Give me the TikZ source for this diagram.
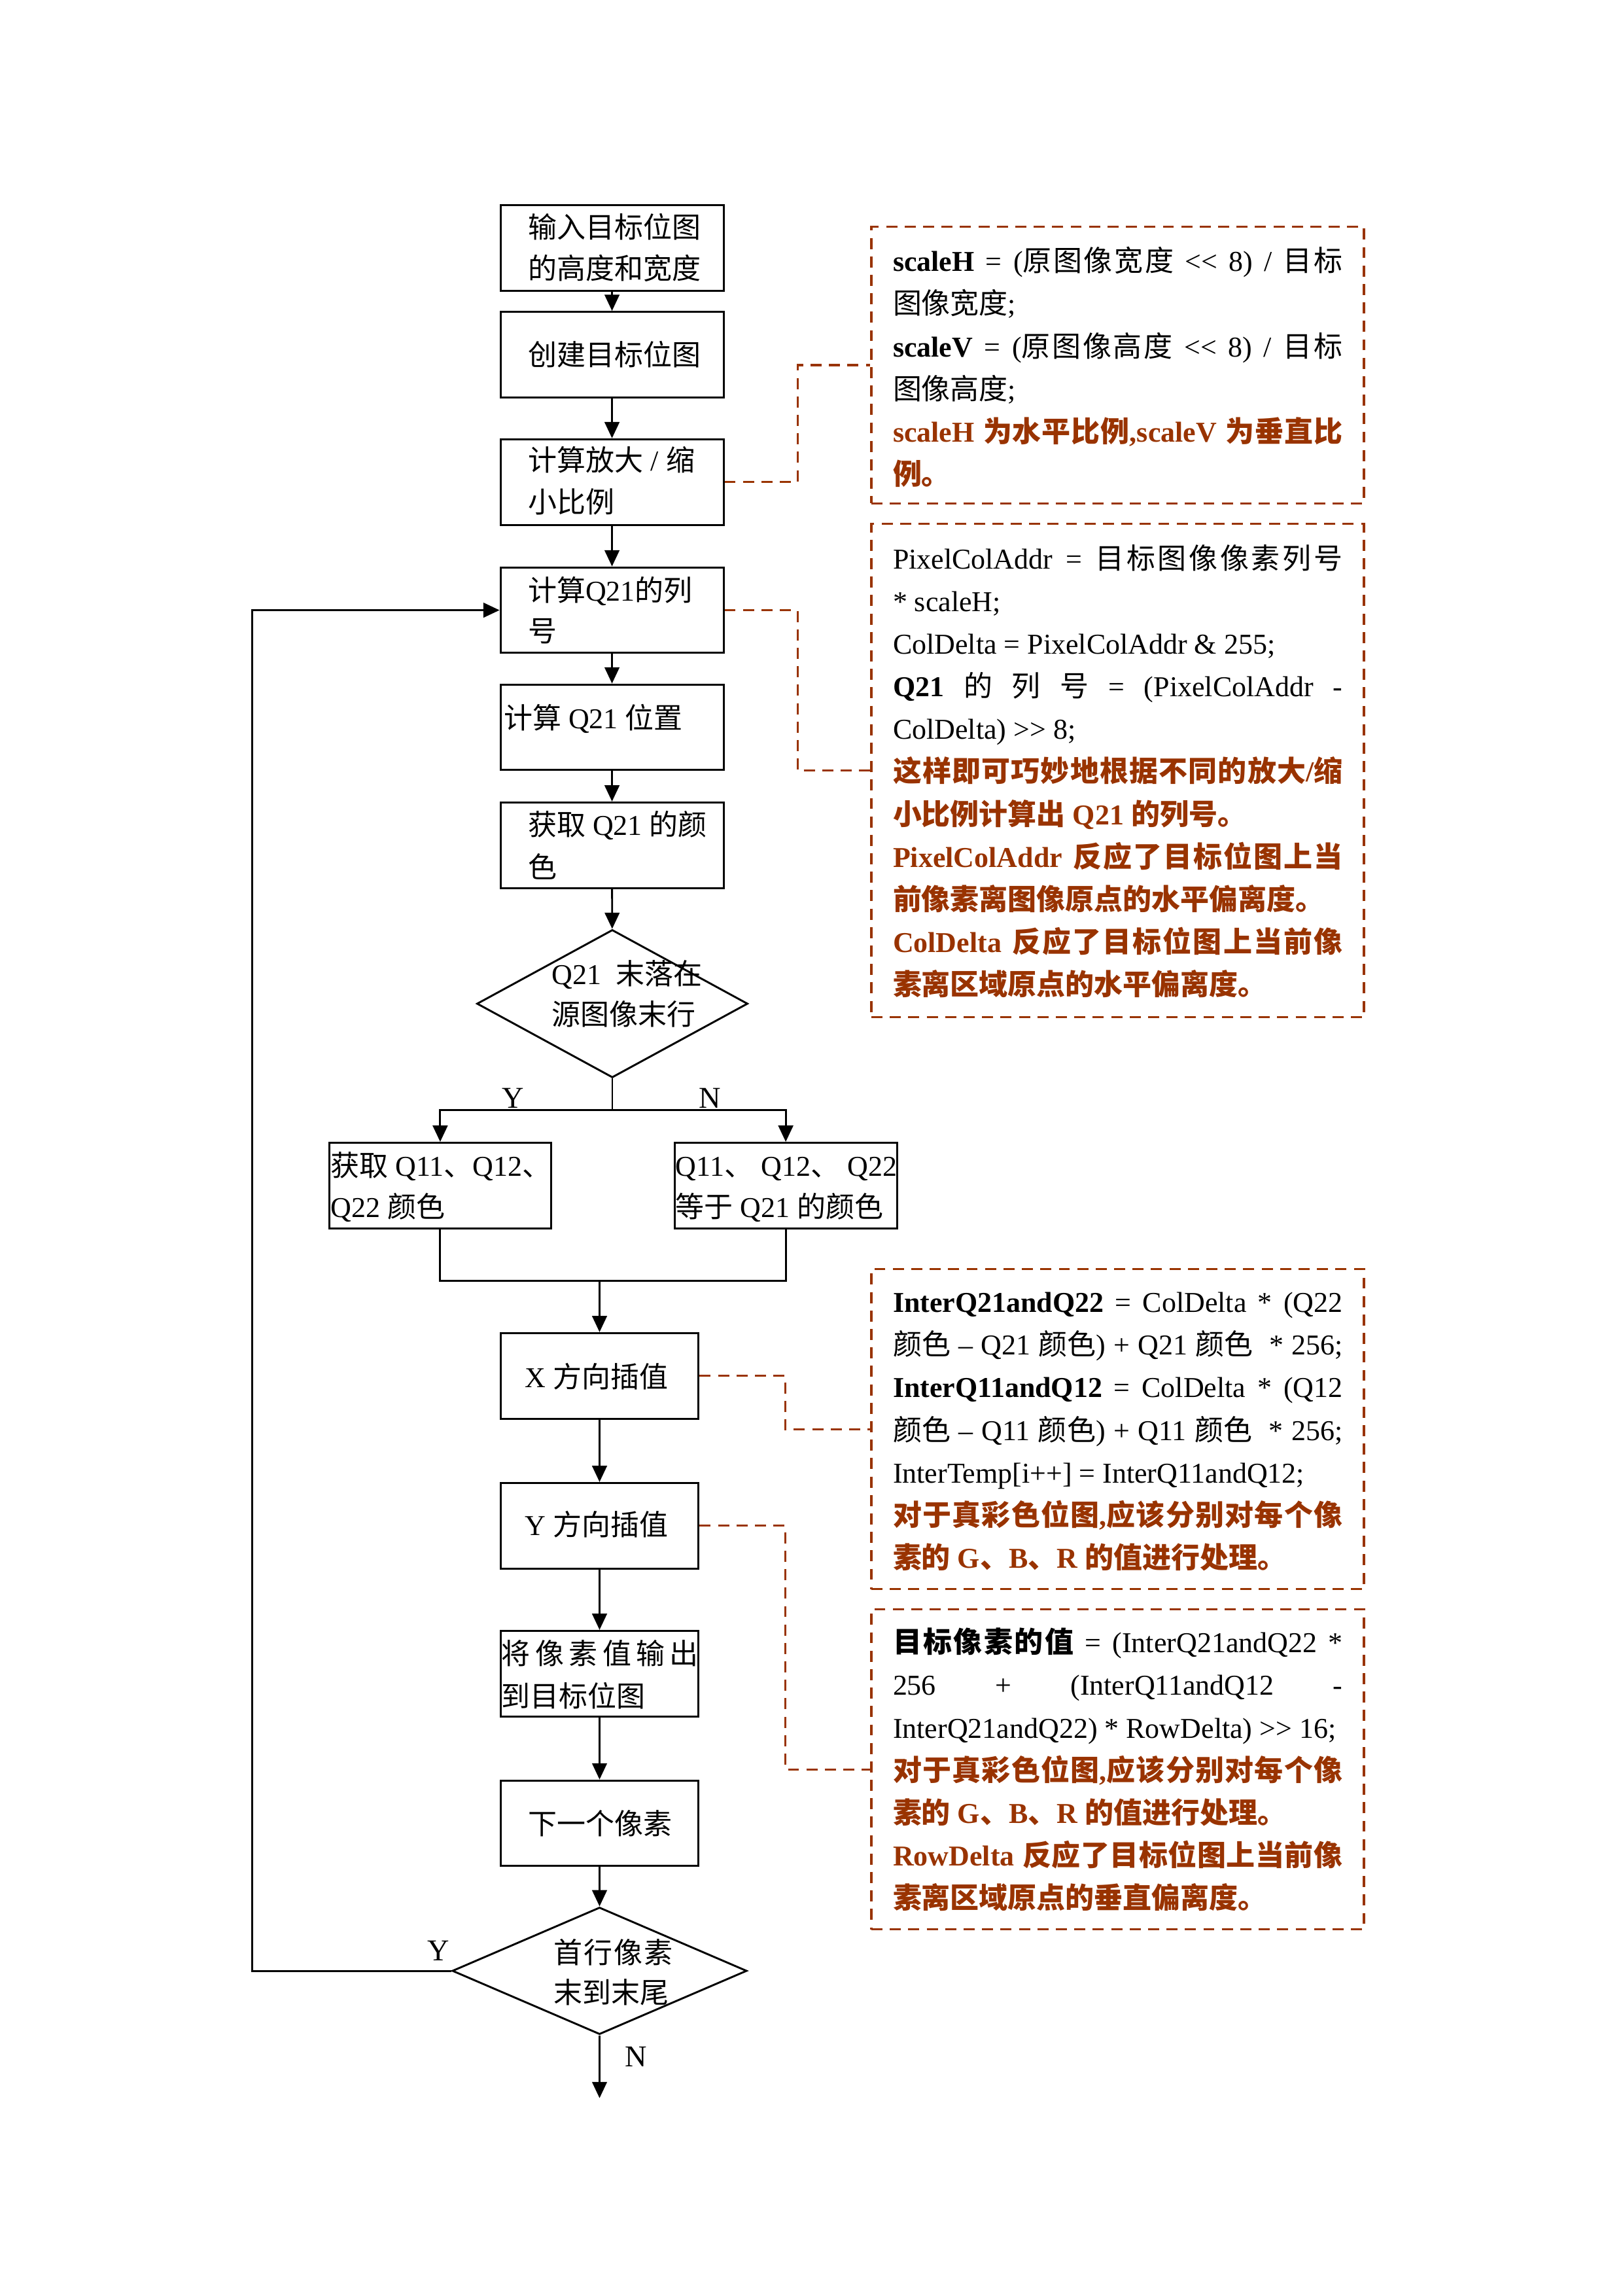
\documentclass[tikz,border=0pt]{standalone}
\usepackage{fontspec}
\setmainfont{Liberation Serif}
\newfontfamily\zhfont{Noto Sans CJK SC}
\usetikzlibrary{arrows.meta,shapes.geometric}
\definecolor{brn}{RGB}{153,51,0}
% automatic switch to the CJK font for Chinese characters
\XeTeXinterchartokenstate=1
\newXeTeXintercharclass\zhcls
\newcount\zhcnt
\zhcnt="3000 \loop \XeTeXcharclass\zhcnt=\zhcls \advance\zhcnt by 1 \ifnum\zhcnt<"3040 \repeat
\zhcnt="4E00 \loop \XeTeXcharclass\zhcnt=\zhcls \advance\zhcnt by 1 \ifnum\zhcnt<"A000 \repeat
\zhcnt="FF00 \loop \XeTeXcharclass\zhcnt=\zhcls \advance\zhcnt by 1 \ifnum\zhcnt<"FFF0 \repeat
\XeTeXinterchartoks 0 \zhcls = {\zhfont}
\XeTeXinterchartoks 4095 \zhcls = {\zhfont}
\XeTeXinterchartoks \zhcls 0 = {\rmfamily}
\XeTeXinterchartoks \zhcls 4095 = {\rmfamily}
\XeTeXinterchartoks \zhcls \zhcls = {\hskip 0pt plus 1pt\relax}
\newdimen\dbtw \dbtw=304.8pt
\newcommand\lineJ[1]{\hbox to \dbtw{#1}}
\newcommand\lineN[1]{\hbox{#1}}
\newcommand\bb[1]{{\color{brn}\bfseries #1}}
\newcommand\shl{<\kern0pt<}
\newcommand\shr{>\kern0pt>}
\newcommand\dbsk{\baselineskip=28.9pt\lineskip=0pt\lineskiplimit=-100pt\relax}
\newcommand\twol[3]{\vtop{\baselineskip=#1pt\lineskip=0pt\lineskiplimit=-100pt\relax\hbox{#2}\hbox{#3}}}
\begin{document}
\begin{tikzpicture}[x=1pt,y=-1pt,font=\fontsize{19.5pt}{28.9pt}\selectfont,
  box/.style={draw, line width=1.3pt, inner sep=0pt, minimum height=58pt},
  ubox/.style={box, minimum width=151.2pt},
  lbox/.style={box, minimum width=134.3pt},
  dec/.style={draw, diamond, line width=1.3pt, inner sep=0pt},
  arr/.style={line width=1.3pt, -{Triangle[length=11pt,width=10pt]}},
  ln/.style={line width=1.3pt},
  dbox/.style={draw=brn, line width=1.4pt, dash pattern=on 7.5pt off 5pt, inner sep=0pt, minimum width=333.8pt},
  dcon/.style={draw=brn, line width=1.4pt, dash pattern=on 7.5pt off 5pt},
  txt/.style={inner sep=0pt, anchor=base west},
  lab/.style={inner sep=0pt, anchor=base, font=\fontsize{20.5pt}{24pt}\selectfont}]
\path[fill=white, use as bounding box] (0,0) rectangle (1100,1555.8);

% ---------- flow chart boxes ----------
\node[ubox] (b1) at (414.8,167.95) {};
\node[ubox] (b2) at (414.8,240.3) {};
\node[ubox] (b3) at (414.8,326.6) {};
\node[ubox] (b4) at (414.8,413.45) {};
\node[ubox] (b5) at (414.8,492.8) {};
\node[ubox] (b6) at (414.8,572.75) {};
\node[dec, minimum width=183.6pt, minimum height=100.2pt] (d1) at (415,680.1) {};
\node[box, minimum width=150.1pt] (b7) at (298.35,803.35) {};
\node[box, minimum width=150.7pt] (b8) at (532.55,803.35) {};
\node[lbox] (b9) at (406.35,932.3) {};
\node[lbox] (b10) at (406.35,1033.85) {};
\node[lbox] (b11) at (406.35,1134.05) {};
\node[lbox] (b12) at (406.35,1235.45) {};
\node[dec, minimum width=199.7pt, minimum height=86.1pt] (d2) at (406.35,1335.45) {};

% ---------- texts of the boxes ----------
\node[txt] (t1) at (357.7,161.3) {\twol{28}{输入目标位图}{的高度和宽度}};
\node[txt] (t2) at (357.7,247.5) {创建目标位图};
\node[txt] (t3) at (357.7,319.1) {\twol{28.1}{\hbox to 113.1pt{计算放大 / 缩}}{小比例}};
\node[txt] (t4) at (357.7,407.4) {\twol{27.3}{计算Q21的列}{号}};
\node[txt] (t5) at (341.3,493.9) {计算 Q21 位置};
\node[txt] (t6) at (357.7,565.9) {\twol{28.9}{获取 Q21 的颜}{色}};
\node[txt] (td1) at (374,666.9) {\twol{27.6}{Q21 \ 末落在}{源图像末行}};
\node[txt] (t7) at (223.9,796.8) {\twol{28.1}{获取 Q11、Q12、}{Q22 颜色}};
\node[txt] (t8) at (457.8,796.8) {\twol{28.1}{\hbox to 150pt{Q11、 Q12、 Q22}}{等于 Q21 的颜色}};
\node[txt] (t9) at (355.6,940.2) {X 方向插值};
\node[txt] (t10) at (355.6,1040.4) {Y 方向插值};
\node[txt] (t11) at (339.8,1127.8) {\twol{28.6}{\hbox to 133.5pt{将像素值输出}}{到目标位图}};
\node[txt] (t12) at (357.7,1243.1) {下一个像素};
\node[txt] (td2) at (375.1,1330.3) {\twol{27}{\hbox to 80.7pt{首行像素}}{末到末尾}};

% ---------- Y / N labels ----------
\node[lab] (ly1) at (347.5,751) {Y};
\node[lab] (ln1) at (481,751) {N};
\node[lab] (ly2) at (297.2,1328.6) {Y};
\node[lab] (ln2) at (430.9,1400.2) {N};

% ---------- connectors ----------
\coordinate (br) at (415,752.3);
\coordinate (mg) at (406.35,868);
\coordinate (endp) at (406.35,1421.7);
\draw[arr] (b1) -- (b2);
\draw[arr] (b2) -- (b3);
\draw[arr] (b3) -- (b4);
\draw[arr] (b4) -- (b5);
\draw[arr] (b5) -- (b6);
\draw[arr] (b6) -- (d1);
\draw[ln] (d1.south) -- (br);
\draw[arr] (br) -| (b7.north);
\draw[arr] (br) -| (b8.north);
\draw[ln] (b7.south) |- (mg) -| (b8.south);
\draw[arr] (mg) -- (b9.north);
\draw[arr] (b9) -- (b10);
\draw[arr] (b10) -- (b11);
\draw[arr] (b11) -- (b12);
\draw[arr] (b12) -- (d2);
\draw[arr] (d2.south) -- (endp);
\draw[arr] (d2.west) -| ([xshift=-167.8pt]b4.west) -- (b4.west);

% ---------- dashed note boxes ----------
\node[dbox, minimum height=187.4pt] (db1) at (757.5,247.4) {};
\node[dbox, minimum height=334.3pt] (db2) at (757.5,522.25) {};
\node[dbox, minimum height=216.9pt] (db3) at (757.5,968.45) {};
\node[dbox, minimum height=216.9pt] (db4) at (757.5,1198.95) {};
\draw[dcon] (b3.east) -- ++(49.5,0) |- (db1.west);
\draw[dcon] (b4.east) -- ++(49.5,0) |- (db2.west);
\draw[dcon] (b9.east) -- ++(58.1,0) |- (db3.west);
\draw[dcon] (b10.east) -- ++(58.1,0) |- (db4.west);

\node[txt] (x1) at (605,183.9) {\vtop{\dbsk
 \lineJ{\textbf{scaleH} = (原图像宽度 \shl{} 8) / 目标}
 \lineN{图像宽度;}
 \lineJ{\textbf{scaleV} = (原图像高度 \shl{} 8) / 目标}
 \lineN{图像高度;}
 \lineJ{\bb{scaleH 为水平比例,scaleV 为垂直比}}
 \lineN{\bb{例。}}}};

\node[txt] (x2) at (605,385.3) {\vtop{\dbsk
 \lineJ{PixelColAddr = 目标图像像素列号}
 \lineN{* scaleH;}
 \lineN{ColDelta = PixelColAddr \& 255;}
 \lineJ{\textbf{Q21} 的 列 号 = (PixelColAddr -}
 \lineN{ColDelta) \shr{} 8;}
 \lineJ{\bb{这样即可巧妙地根据不同的放大/缩}}
 \lineN{\bb{小比例计算出 Q21 的列号。}}
 \lineJ{\bb{PixelColAddr 反应了目标位图上当}}
 \lineN{\bb{前像素离图像原点的水平偏离度。}}
 \lineJ{\bb{ColDelta 反应了目标位图上当前像}}
 \lineN{\bb{素离区域原点的水平偏离度。}}}};

\node[txt] (x3) at (605,889.2) {\vtop{\dbsk
 \lineJ{\textbf{InterQ21andQ22} = ColDelta * (Q22}
 \lineJ{颜色 – Q21 颜色) + Q21 颜色 \ * 256;}
 \lineJ{\textbf{InterQ11andQ12} = ColDelta * (Q12}
 \lineJ{颜色 – Q11 颜色) + Q11 颜色 \ * 256;}
 \lineN{InterTemp[i++] = InterQ11andQ12;}
 \lineJ{\bb{对于真彩色位图,应该分别对每个像}}
 \lineN{\bb{素的 G、B、R 的值进行处理。}}}};

\node[txt] (x4) at (605,1119.8) {\vtop{\dbsk
 \lineJ{\textbf{目标像素的值} = (InterQ21andQ22 *}
 \lineJ{256 + (InterQ11andQ12 -}
 \lineN{InterQ21andQ22) * RowDelta) \shr{} 16;}
 \lineJ{\bb{对于真彩色位图,应该分别对每个像}}
 \lineN{\bb{素的 G、B、R 的值进行处理。}}
 \lineJ{\bb{RowDelta 反应了目标位图上当前像}}
 \lineN{\bb{素离区域原点的垂直偏离度。}}}};
\end{tikzpicture}
\end{document}
